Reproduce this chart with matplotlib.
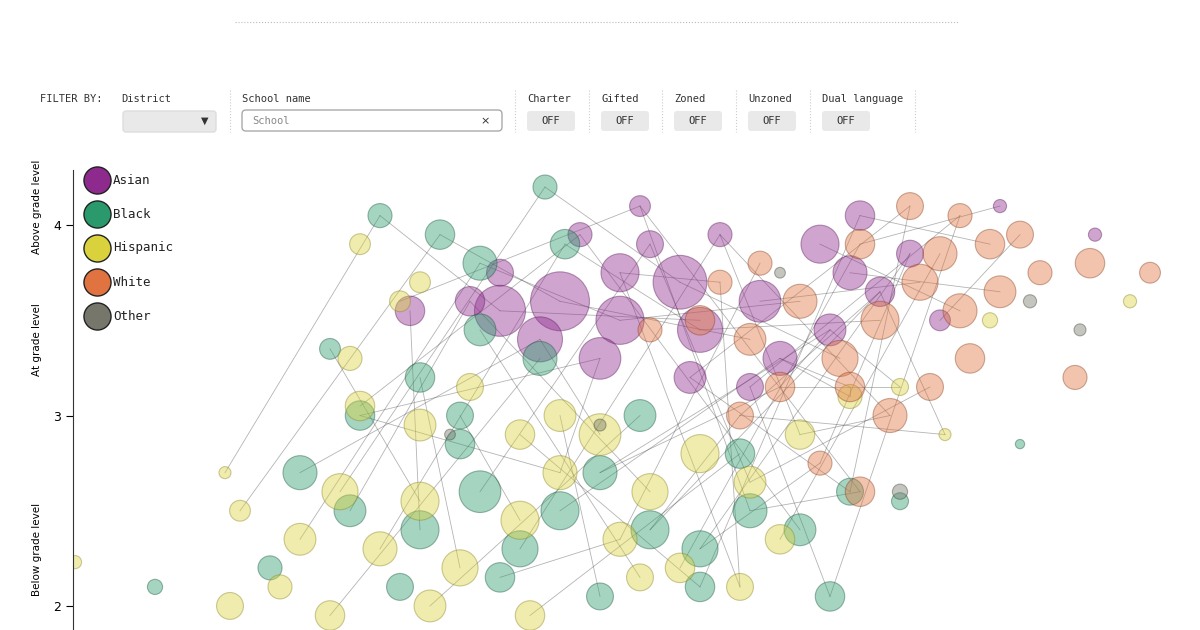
import matplotlib
matplotlib.use('Agg')
import matplotlib.pyplot as plt
from matplotlib.patches import FancyBboxPatch

# (x position in px, score, bubble size)
asian = [(500,3.55,900),(560,3.6,1200),(620,3.5,800),(680,3.7,1000),(700,3.45,700),(760,3.6,600),
         (820,3.9,500),(850,3.75,400),(600,3.3,600),(540,3.4,700),(470,3.6,300),(410,3.55,300),
         (650,3.9,250),(720,3.95,200),(780,3.3,400),(830,3.45,350),(880,3.65,300),(910,3.85,250),
         (640,4.1,150),(580,3.95,200),(690,3.2,350),(750,3.15,250),(860,4.05,300),(940,3.5,150),
         (1095,3.95,60),(1000,4.1,60),(620,3.75,500),(500,3.75,250)]
black = [(380,4.05,200),(440,3.95,300),(480,3.8,400),(545,4.2,200),(565,3.9,300),(330,3.35,150),
         (420,3.2,300),(460,3.0,250),(360,3.0,300),(300,2.7,400),(350,2.5,350),(420,2.4,500),
         (480,2.6,600),(520,2.3,450),(560,2.5,500),(600,2.7,400),(650,2.4,500),(700,2.3,450),
         (750,2.5,400),(800,2.4,350),(850,2.6,250),(830,2.05,300),(700,2.1,300),(600,2.05,250),
         (500,2.15,300),(400,2.1,250),(270,2.2,200),(155,2.1,80),(1020,2.85,30),(900,2.55,100),
         (540,3.3,400),(640,3.0,350),(740,2.8,300),(480,3.45,350),(460,2.85,300)]
hispanic = [(225,2.7,50),(240,2.5,150),(300,2.35,350),(340,2.6,450),(380,2.3,400),(420,2.55,500),
            (460,2.2,450),(520,2.45,500),(560,2.7,400),(600,2.9,600),(650,2.6,450),(700,2.8,500),
            (750,2.65,350),(800,2.9,300),(850,3.1,200),(900,3.15,100),(945,2.9,50),(350,3.3,200),
            (400,3.6,150),(360,3.05,300),(420,2.95,350),(470,3.15,250),(520,2.9,300),(560,3.0,350),
            (620,2.35,400),(680,2.2,300),(740,2.1,250),(780,2.35,300),(280,2.1,200),(230,2.0,250),
            (330,1.95,300),(430,2.0,350),(530,1.95,300),(640,2.15,250),(75,2.23,60),(1130,3.6,60),
            (990,3.5,80),(360,3.9,150),(420,3.7,150)]
white = [(700,3.5,300),(750,3.4,350),(800,3.6,400),(840,3.3,450),(880,3.5,500),(920,3.7,450),
         (960,3.55,400),(1000,3.65,350),(1040,3.75,200),(1090,3.8,300),(1150,3.75,150),(970,3.3,300),
         (930,3.15,250),(890,3.0,400),(850,3.15,300),(780,3.15,300),(740,3.0,250),(820,2.75,200),
         (860,2.6,300),(1075,3.2,200),(910,4.1,250),(960,4.05,200),(990,3.9,300),(1020,3.95,250),
         (760,3.8,200),(860,3.9,300),(720,3.7,200),(940,3.85,400),(650,3.45,200)]
other = [(1030,3.6,60),(1080,3.45,50),(600,2.95,50),(780,3.75,40),(900,2.6,80),(450,2.9,40)]

groups = ['Asian', 'Black', 'Hispanic', 'White', 'Other']
data = [asian, black, hispanic, white, other]
colors = ['#8e2a8e', '#2a9a6c', '#d9d23c', '#e0733f', '#76766a']
edges = ['#5a1a5a', '#1a5a40', '#8a8420', '#8a4020', '#444438']
filters = [('District', 121), ('School name', 242), ('Charter', 527), ('Gifted', 601),
           ('Zoned', 674), ('Unzoned', 748), ('Dual language', 822)]

mono = 'DejaVu Sans Mono'
fig = plt.figure(figsize=(12, 6.3), dpi=100)

# scatter axes: left 73px, top 170px to bottom
ax = fig.add_axes([73 / 1200, 0, 1127 / 1200, 460 / 630])
ax.set_xlim(73, 1200)
ax.set_ylim(2 - 24 / 190, 4 + 55 / 190)
ax.patch.set_visible(False)

# grey lines linking the same school's groups (only nearby ones)
for a, b in [(asian, white), (black, hispanic), (asian, black), (hispanic, white),
             (asian, hispanic), (black, white)]:
    for p, q in zip(a, b):
        if abs(p[0] - q[0]) < 260:
            ax.plot([p[0], q[0]], [p[1], q[1]], color='#444444', lw=0.6, alpha=0.4, zorder=1)

for pts, c, e in zip(data, colors, edges):
    ax.scatter([p[0] for p in pts], [p[1] for p in pts], s=[p[2] * 1.5 for p in pts],
               c=c, edgecolors=e, linewidths=0.8, alpha=0.42, zorder=2)

for spine in ['top', 'right', 'bottom']:
    ax.spines[spine].set_visible(False)
ax.spines['left'].set_color('#333')
ax.set_xticks([])
ax.set_yticks([2, 3, 4])
ax.tick_params(axis='y', labelsize=9, length=5)

# overlay in pixel coords for the filter bar and legend
bg = fig.add_axes([0, 0, 1, 1])
bg.set_xlim(0, 1200); bg.set_ylim(630, 0); bg.axis('off')
bg.patch.set_visible(False)
bg.plot([235, 958], [22, 22], color='#bbbbbb', lw=0.8, ls=':')
bg.text(40, 99, 'FILTER BY:', fontsize=7.5, family=mono, va='center', color='#333')
for name, x in filters:
    bg.text(x, 99, name, fontsize=7.5, family=mono, va='center', color='#333')
for x in [230, 515, 589, 662, 736, 810, 915]:
    bg.plot([x, x], [90, 132], color='#cccccc', lw=0.8, ls=':')
bg.add_patch(FancyBboxPatch((123, 111), 93, 21, boxstyle='round,pad=0,rounding_size=3',
                            fc='#e9e9e9', ec='#dddddd'))
bg.text(205, 121, '\u25bc', fontsize=7, ha='center', va='center', color='#333')
bg.add_patch(FancyBboxPatch((242, 110), 260, 21, boxstyle='round,pad=0,rounding_size=4',
                            fc='white', ec='#aaaaaa'))
bg.text(252, 121, 'School', fontsize=7.5, family=mono, va='center', color='#888')
bg.text(485, 121, '\u00d7', fontsize=8, va='center', ha='center', color='#333')
for name, x in filters[2:]:
    bg.add_patch(FancyBboxPatch((x, 111), 48, 20, boxstyle='round,pad=0,rounding_size=3',
                                fc='#e9e9e9', ec='none'))
    bg.text(x + 24, 121, 'OFF', fontsize=7.5, family=mono, ha='center', va='center', color='#333')

for y, label in [(4.1, 'Above grade level'), (3.4, 'At grade level'), (2.3, 'Below grade level')]:
    bg.text(37, 606 - (y - 2) * 190, label, rotation=90, fontsize=7.5, ha='center', va='center')

# legend
for i, (g, c) in enumerate(zip(groups, colors)):
    y = 180 + i * 34
    bg.scatter([97], [y], s=380, c=c, edgecolors='#222', linewidths=1, zorder=5)
    bg.text(113, y, g, fontsize=9, family=mono, va='center', color='#222')

fig.savefig('out.png', dpi=100)
